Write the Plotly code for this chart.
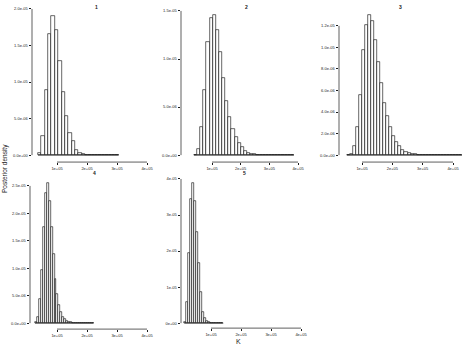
import plotly.graph_objects as go

W, H = 474, 348

# ---------------- data (posterior densities of K per panel) ----------------
panel_names = ["1", "2", "3", "4", "5"]

# first break and bin width for each histogram
p1_start, p1_width = 36700, 11200
p2_start, p2_width = 37000, 10900
p3_start, p3_width = 50000, 10000
p4_start, p4_width = 26700, 6500
p5_start, p5_width = 11000, 6500

p1_density = [0.3e-6, 2.68e-6, 8.9e-6, 16.6e-6, 19.1e-6, 17.1e-6, 12.9e-6, 8.6e-6,
              5.4e-6, 3.0e-6, 1.9e-6, 0.77e-6, 0.27e-6,
              0.15e-6, 0.08e-6, 0.05e-6, 0.02e-6, 0, 0, 0, 0, 0, 0, 0]
p2_density = [0.03e-6, 0.65e-6, 2.9e-6, 6.8e-6, 11.8e-6, 14.3e-6, 14.55e-6, 13.0e-6,
              10.75e-6, 8.0e-6, 5.65e-6, 4.0e-6, 2.7e-6, 1.86e-6, 1.27e-6, 0.83e-6,
              0.41e-6, 0.24e-6, 0.13e-6, 0.08e-6, 0.05e-6, 0.03e-6, 0.02e-6, 0.01e-6,
              0, 0, 0, 0, 0, 0, 0, 0]
p3_density = [0.01e-6, 0.12e-6, 0.83e-6, 2.58e-6, 5.6e-6, 9.8e-6, 12.05e-6, 12.97e-6,
              12.44e-6, 10.66e-6, 8.66e-6, 6.67e-6, 4.82e-6, 3.66e-6, 2.58e-6, 1.75e-6,
              1.2e-6, 0.83e-6, 0.52e-6, 0.3e-6, 0.18e-6, 0.11e-6, 0.07e-6, 0.05e-6,
              0.03e-6, 0.02e-6, 0.015e-6, 0.01e-6, 0, 0, 0, 0, 0, 0, 0, 0, 0, 0]
p4_density = [0.24e-6, 1.14e-6, 4.47e-6, 9.6e-6, 17.45e-6, 23.8e-6, 25.5e-6, 22.2e-6,
              17.45e-6, 12.6e-6, 8.1e-6, 5.4e-6, 3.26e-6, 2.05e-6, 1.14e-6, 0.67e-6,
              0.42e-6, 0.25e-6, 0.15e-6, 0.1e-6, 0.06e-6, 0.03e-6,
              0, 0, 0, 0, 0, 0, 0, 0]
p5_density = [0.36e-6, 5.9e-6, 19.4e-6, 34.4e-6, 38.8e-6, 33.9e-6, 25.2e-6, 16.6e-6,
              8.6e-6, 3.1e-6, 1.3e-6, 0.63e-6, 0.3e-6, 0.18e-6, 0.1e-6, 0.05e-6,
              0.03e-6, 0, 0, 0]

x_tickvals = [1e5, 2e5, 3e5, 4e5]
x_ticktext = ["1e+05", "2e+05", "3e+05", "4e+05"]

p1_ytickvals = [0, 5e-6, 1e-5, 1.5e-5, 2e-5]
p1_yticktext = ["0.0e+00", "5.0e-06", "1.0e-05", "1.5e-05", "2.0e-05"]
p2_ytickvals = [0, 5e-6, 1e-5, 1.5e-5]
p2_yticktext = ["0.0e+00", "5.0e-06", "1.0e-05", "1.5e-05"]
p3_ytickvals = [0, 2e-6, 4e-6, 6e-6, 8e-6, 1e-5, 1.2e-5]
p3_yticktext = ["0.0e+00", "2.0e-06", "4.0e-06", "6.0e-06", "8.0e-06", "1.0e-05", "1.2e-05"]
p4_ytickvals = [0, 5e-6, 1e-5, 1.5e-5, 2e-5, 2.5e-5]
p4_yticktext = ["0.0e+00", "5.0e-06", "1.0e-05", "1.5e-05", "2.0e-05", "2.5e-05"]
p5_ytickvals = [0, 1e-5, 2e-5, 3e-5, 4e-5]
p5_yticktext = ["0e+00", "1e-05", "2e-05", "3e-05", "4e-05"]

x_title = "K"
y_title = "Posterior density"

# ---------------- layout geometry (pixels) ----------------
# left, right, top, bottom of plot area; x anchor px (1e5, 4e5); y anchor px (0, top tick)
geom = [
    dict(l=32, r=160, t=6, b=161, x1=57, x4=147, y0=154, yt=7),
    dict(l=181, r=311, t=6, b=161, x1=212, x4=298, y0=154, yt=9),
    dict(l=339, r=462, t=6, b=161, x1=362, x4=453, y0=154, yt=24),
    dict(l=30, r=158, t=176, b=329, x1=57, x4=147, y0=323, yt=185),
    dict(l=181, r=307, t=176, b=328, x1=211, x4=301, y0=323, yt=178),
]
title_pos = [(96, 5), (246, 5), (400, 5), (94, 172), (244, 172)]

panels = [
    (p1_start, p1_width, p1_density, p1_ytickvals, p1_yticktext),
    (p2_start, p2_width, p2_density, p2_ytickvals, p2_yticktext),
    (p3_start, p3_width, p3_density, p3_ytickvals, p3_yticktext),
    (p4_start, p4_width, p4_density, p4_ytickvals, p4_yticktext),
    (p5_start, p5_width, p5_density, p5_ytickvals, p5_yticktext),
]

fig = go.Figure()
layout = {}
shapes = []
annotations = []
FONT = "Liberation Sans, Arial, sans-serif"
INK = "#1a1a1a"

for i, ((start, width, dens, ytv, ytt), g) in enumerate(zip(panels, geom)):
    n = i + 1
    xa = "x" if n == 1 else f"x{n}"
    ya = "y" if n == 1 else f"y{n}"
    centers = [start + width * (k + 0.5) for k in range(len(dens))]
    end = start + width * len(dens)
    fig.add_trace(go.Bar(
        x=centers, y=dens, width=width, xaxis=xa, yaxis=ya,
        marker=dict(color="white", line=dict(color="#000000", width=0.6)),
        showlegend=False, hoverinfo="skip"))
    fig.add_trace(go.Scatter(
        x=[start, end], y=[0, 0], mode="lines", xaxis=xa, yaxis=ya,
        line=dict(color="#000000", width=0.7), showlegend=False, hoverinfo="skip"))

    # axis ranges from pixel anchors
    xpp = (g["x4"] - g["x1"]) / (x_tickvals[-1] - x_tickvals[0])
    xmin = x_tickvals[0] - (g["x1"] - g["l"]) / xpp
    xmax = x_tickvals[0] + (g["r"] - g["x1"]) / xpp
    ypp = (g["y0"] - g["yt"]) / (ytv[-1] - ytv[0])
    ymin = -(g["b"] - g["y0"]) / ypp
    ymax = (g["y0"] - g["t"]) / ypp

    key_x = "xaxis" if n == 1 else f"xaxis{n}"
    key_y = "yaxis" if n == 1 else f"yaxis{n}"
    layout[key_x] = dict(
        domain=[g["l"] / W, g["r"] / W], anchor=ya, range=[xmin, xmax],
        showgrid=False, zeroline=False, showline=False,
        tickmode="array", tickvals=x_tickvals, ticktext=x_ticktext,
        ticks="outside", ticklen=2, tickwidth=0.7, tickcolor=INK,
        tickfont=dict(size=4, color=INK, family=FONT), fixedrange=True)
    layout[key_y] = dict(
        domain=[1 - g["b"] / H, 1 - g["t"] / H], anchor=xa, range=[ymin, ymax],
        showgrid=False, zeroline=False, showline=False,
        tickmode="array", tickvals=ytv, ticktext=ytt,
        ticks="outside", ticklen=2.5, tickwidth=0.7, tickcolor=INK,
        tickfont=dict(size=4, color=INK, family=FONT), fixedrange=True)

    # R-style axis lines spanning first..last tick
    shapes.append(dict(type="line", xref=xa, yref=f"{ya} domain",
                       x0=x_tickvals[0], x1=x_tickvals[-1], y0=0, y1=0,
                       line=dict(color=INK, width=0.7)))
    shapes.append(dict(type="line", xref=f"{xa} domain", yref=ya,
                       x0=0, x1=0, y0=ytv[0], y1=ytv[-1],
                       line=dict(color=INK, width=0.7)))

    tx, ty = title_pos[i]
    annotations.append(dict(text=f"<b>{panel_names[i]}</b>", x=tx / W, y=1 - ty / H,
                            xref="paper", yref="paper", showarrow=False,
                            xanchor="center", yanchor="middle",
                            font=dict(size=5, color=INK, family=FONT)))

annotations.append(dict(text=x_title, x=239 / W, y=1 - 341.5 / H, xref="paper", yref="paper",
                        showarrow=False, xanchor="center", yanchor="middle",
                        font=dict(size=7, color=INK, family=FONT)))
annotations.append(dict(text=y_title, x=5 / W, y=1 - 168 / H, xref="paper", yref="paper",
                        showarrow=False, xanchor="center", yanchor="middle", textangle=-90,
                        font=dict(size=6.5, color=INK, family=FONT)))

fig.update_layout(
    width=W, height=H, margin=dict(l=0, r=0, t=0, b=0),
    paper_bgcolor="white", plot_bgcolor="white",
    bargap=0, shapes=shapes, annotations=annotations, **layout)

fig.write_html("out.html", config={"displayModeBar": False})
